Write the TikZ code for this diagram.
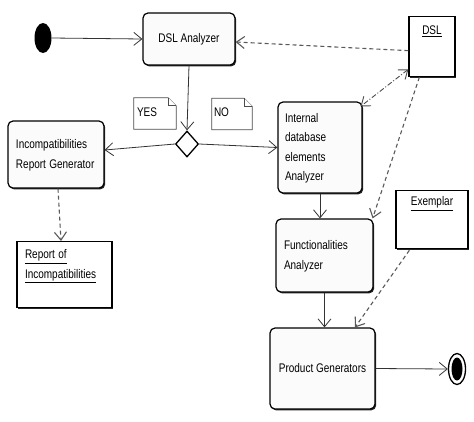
\documentclass[tikz,border=0pt]{standalone}
\usepackage{fontspec}
\setmainfont{Liberation Sans}
\usepackage{graphicx}
\usetikzlibrary{arrows.meta,shapes.geometric,shadows,calc}
\newcommand\stx[1]{\scalebox{1}[1.25]{\renewcommand\arraystretch{1.3}\begin{tabular}[t]{@{}l@{}}#1\end{tabular}}}
\newcommand\ctx[1]{\scalebox{1}[1.25]{#1}}
\begin{document}
\begin{tikzpicture}[x=1pt,y=-1pt,
  every node/.style={font=\fontsize{10}{12}\selectfont},
  shad/.style={drop shadow={shadow xshift=1.2pt,shadow yshift=-1.4pt,opacity=1,fill=black!85}},
  statebox/.style={draw=black,line width=1.2pt,rounded corners=5pt,fill=gray!3,inner sep=0pt,shad},
  plainbox/.style={draw=black,line width=1.3pt,fill=white,inner sep=0pt,shad},
  notebox/.style={inner sep=0pt,minimum width=#1,minimum height=31pt},
  flow/.style={draw=black!80,line width=0.8pt,-{Straight Barb[length=8pt,width=13pt]}},
  dep/.style={draw=black!65,line width=1.1pt,dash pattern=on 4pt off 3pt,-{Straight Barb[length=8pt,width=12pt]}},
  notepath/.style={draw=black!70,line width=0.7pt,fill=white}
]
\useasboundingbox (0,0) rectangle (474,421);

% start / end
\node[ellipse,fill=black,minimum width=17pt,minimum height=30pt,inner sep=0pt] (start) at (43,38) {};
\node[ellipse,draw=black,line width=1.3pt,fill=white,minimum width=17pt,minimum height=31pt,inner sep=0pt] (end) at (457,369) {};
\node[ellipse,fill=black,minimum width=11pt,minimum height=23pt,inner sep=0pt] (endin) at (457,369) {};

% state boxes
\node[statebox,minimum width=92pt,minimum height=52pt] (analyzer) at (189,39) {\ctx{DSL Analyzer}};
\node[statebox,text width=80pt,inner xsep=8pt,minimum height=67pt,align=left] (incomp) at (56,154.5)
  {\stx{Incompatibilities\\Report Generator}};
\node[statebox,text width=70pt,inner xsep=7pt,minimum height=91pt,align=left] (internal) at (320,147.5)
  {\stx{Internal\\database\\elements\\Analyzer}};
\node[statebox,text width=81pt,inner xsep=8pt,minimum height=73pt,align=left] (func) at (324.5,255.5)
  {\stx{Functionalities\\Analyzer}};
\node[statebox,minimum width=105pt,minimum height=81pt] (product) at (322.5,368.5) {\ctx{Product Generators}};

% object boxes
\node[plainbox,minimum width=46pt,text height=18pt,text depth=42pt,anchor=north] (dsl) at (432,16) {\ctx{\underline{DSL}}};
\node[plainbox,minimum width=72pt,text height=15pt,text depth=43pt,anchor=north] (exemplar) at (432,190) {\ctx{\underline{Exemplar}}};
\node[plainbox,text width=79pt,inner xsep=8pt,text height=17pt,text depth=49pt,align=left,anchor=north] (report) at (64.5,241)
  {\stx{\underline{Report of}\\\underline{Incompatibilities}}};

% decision
\node[diamond,draw=black,line width=1.3pt,fill=white,minimum width=23pt,minimum height=26pt,inner sep=0pt] (dec) at (187,144) {};

% notes
\node[notebox=42pt] (yes) at (155,113.5) {};
\node[notebox=40pt] (no) at (232,114) {};
\draw[notepath] (yes.south west) -- (yes.north west) -- ([xshift=-8pt]yes.north east) -- ([yshift=-8pt]yes.north east) -- (yes.south east) -- cycle;
\draw[notepath] ([xshift=-8pt]yes.north east) -- ([xshift=-8pt,yshift=-8pt]yes.north east) -- ([yshift=-8pt]yes.north east);
\draw[notepath] (no.south west) -- (no.north west) -- ([xshift=-8pt]no.north east) -- ([yshift=-8pt]no.north east) -- (no.south east) -- cycle;
\draw[notepath] ([xshift=-8pt]no.north east) -- ([xshift=-8pt,yshift=-8pt]no.north east) -- ([yshift=-8pt]no.north east);
\node[anchor=west,inner sep=0pt] (yest) at ([xshift=3pt,yshift=1pt]yes.west) {\ctx{YES}};
\node[anchor=west,inner sep=0pt] (not) at ([xshift=2pt,yshift=1.5pt]no.west) {\ctx{NO}};

% connectors
\draw[flow] (start.east) -- (analyzer.west);
\draw[flow] (analyzer.south) -- (dec.north);
\draw[flow] (dec.west) -- ([yshift=4.5pt]incomp.east);
\draw[flow] (dec.east) -- (internal.west);
\draw[flow] (internal.south) -- (internal.south |- func.north);
\draw[flow] (func.south) -- (func.south |- product.north);
\draw[flow] (product.east) -- (end.west);
\draw[draw=black!70,line width=0.9pt,dash pattern=on 5pt off 2pt on 1pt off 2pt,{Straight Barb[length=8pt,width=12pt]}-{Straight Barb[length=8pt,width=12pt]}]
  ([yshift=8pt]dsl.south west) -- ([xshift=-2pt,yshift=-5pt]internal.north east);
\draw[dep] ([yshift=-4pt]dsl.west) -- ([yshift=-3pt]analyzer.east);
\draw[dep] ([xshift=11pt]dsl.south west) -- ([xshift=-1pt]func.north east);
\draw[dep] ([xshift=14pt,yshift=-1pt]exemplar.south west) -- ([xshift=32.5pt]product.north);
\draw[dep] ([xshift=2pt]incomp.south) -- ([xshift=-3.5pt]report.north);
\end{tikzpicture}
\end{document}
